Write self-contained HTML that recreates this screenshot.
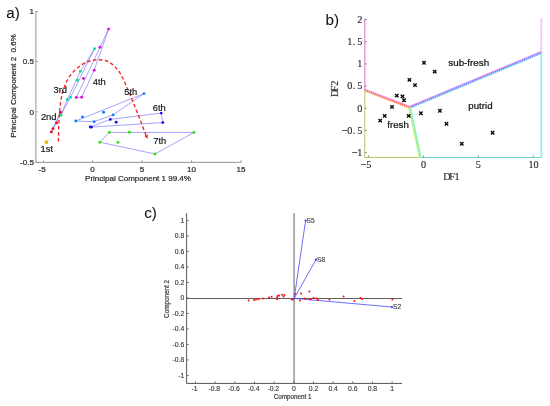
<!DOCTYPE html>
<html><head><meta charset="utf-8"><title>Figure</title>
<style>
html,body{margin:0;padding:0;background:#fff;}
body{width:550px;height:406px;overflow:hidden;font-family:"Liberation Sans",sans-serif;}
svg{display:block}
</style></head>
<body>
<svg width="550" height="406" viewBox="0 0 550 406">
<defs><filter id="soft" x="0" y="0" width="550" height="406" filterUnits="userSpaceOnUse"><feGaussianBlur stdDeviation="0.32"/></filter></defs>
<rect width="550" height="406" fill="#ffffff"/>
<g filter="url(#soft)">
<g id="pa">
<text x="6.2" y="17.8" font-size="15.2" text-anchor="start" fill="#111" stroke="#111" stroke-width="0.05" font-family="Liberation Sans, sans-serif" >a)</text>
<path d="M35.9 11 V162.35 H241.5" fill="none" stroke="#949494" stroke-width="1.0"/>
<path d="M35.9 11.6 h2.2" stroke="#949494" stroke-width="0.8"/>
<text x="34.0" y="14.35" font-size="8.1" text-anchor="end" fill="#2a2a2a" stroke="#2a2a2a" stroke-width="0.22" font-family="Liberation Sans, sans-serif" >1</text>
<path d="M35.9 61.5 h2.2" stroke="#949494" stroke-width="0.8"/>
<text x="34.0" y="64.25" font-size="8.1" text-anchor="end" fill="#2a2a2a" stroke="#2a2a2a" stroke-width="0.22" font-family="Liberation Sans, sans-serif" >0.5</text>
<path d="M35.9 111.8 h2.2" stroke="#949494" stroke-width="0.8"/>
<text x="34.0" y="114.55" font-size="8.1" text-anchor="end" fill="#2a2a2a" stroke="#2a2a2a" stroke-width="0.22" font-family="Liberation Sans, sans-serif" >0</text>
<path d="M35.9 162.3 h2.2" stroke="#949494" stroke-width="0.8"/>
<text x="34.0" y="165.05" font-size="8.1" text-anchor="end" fill="#2a2a2a" stroke="#2a2a2a" stroke-width="0.22" font-family="Liberation Sans, sans-serif" >-0.5</text>
<path d="M43.5 162.35 v-2.2" stroke="#949494" stroke-width="0.8"/>
<text x="42.2" y="171.6" font-size="8.1" text-anchor="middle" fill="#2a2a2a" stroke="#2a2a2a" stroke-width="0.22" font-family="Liberation Sans, sans-serif" >-5</text>
<path d="M92.5 162.35 v-2.2" stroke="#949494" stroke-width="0.8"/>
<text x="92.5" y="171.6" font-size="8.1" text-anchor="middle" fill="#2a2a2a" stroke="#2a2a2a" stroke-width="0.22" font-family="Liberation Sans, sans-serif" >0</text>
<path d="M142 162.35 v-2.2" stroke="#949494" stroke-width="0.8"/>
<text x="142" y="171.6" font-size="8.1" text-anchor="middle" fill="#2a2a2a" stroke="#2a2a2a" stroke-width="0.22" font-family="Liberation Sans, sans-serif" >5</text>
<path d="M191.5 162.35 v-2.2" stroke="#949494" stroke-width="0.8"/>
<text x="191.5" y="171.6" font-size="8.1" text-anchor="middle" fill="#2a2a2a" stroke="#2a2a2a" stroke-width="0.22" font-family="Liberation Sans, sans-serif" >10</text>
<path d="M241 162.35 v-2.2" stroke="#949494" stroke-width="0.8"/>
<text x="241" y="171.6" font-size="8.1" text-anchor="middle" fill="#2a2a2a" stroke="#2a2a2a" stroke-width="0.22" font-family="Liberation Sans, sans-serif" >15</text>
<text x="138" y="181" font-size="8" text-anchor="middle" fill="#2a2a2a" stroke="#2a2a2a" stroke-width="0.22" font-family="Liberation Sans, sans-serif" >Principal Component 1 99.4%</text>
<text transform="translate(16.4,86) rotate(-90)" font-size="8" text-anchor="middle" fill="#2a2a2a" stroke="#2a2a2a" stroke-width="0.22" font-family="Liberation Sans, sans-serif">Principal Component 2&#160; 0.6%</text>
<path d="M76.3 97.5 L108.6 29.1 L94.2 70.2 L81.7 97.3 Z" fill="none" stroke="#7474ff" stroke-width="0.65"/>
<path d="M60.9 115.1 L67.3 99.5 L80.4 71.4 L94.5 48.8 L70.5 97.2 Z" fill="none" stroke="#7474ff" stroke-width="0.65"/>
<path d="M51.4 131.9 L60.4 112.3 L56.5 122.9 Z" fill="none" stroke="#7474ff" stroke-width="0.65"/>
<path d="M75.8 121 L144 93.6 L113.1 114.9 L94.1 121.7 Z" fill="none" stroke="#7474ff" stroke-width="0.65"/>
<path d="M90.2 127 L110.3 119.4 L161.2 113.1 L162.8 122.6 L91.6 127.1 Z" fill="none" stroke="#7474ff" stroke-width="0.65"/>
<path d="M99.8 142.2 L109.3 132.4 L193.9 132.5 L155 154 Z" fill="none" stroke="#7474ff" stroke-width="0.65"/>
<circle cx="108.6" cy="29.1" r="1.45" fill="#e010e0"/>
<circle cx="100" cy="47.3" r="1.45" fill="#e010e0"/>
<circle cx="94.2" cy="70.2" r="1.45" fill="#e010e0"/>
<circle cx="83.5" cy="78.5" r="1.45" fill="#e010e0"/>
<circle cx="76.3" cy="97.5" r="1.45" fill="#e010e0"/>
<circle cx="81.7" cy="97.3" r="1.45" fill="#e010e0"/>
<circle cx="94.5" cy="48.8" r="1.45" fill="#10d8a0"/>
<circle cx="80.4" cy="71.4" r="1.45" fill="#10d8a0"/>
<circle cx="77.4" cy="80.3" r="1.45" fill="#10d8a0"/>
<circle cx="67.3" cy="99.5" r="1.45" fill="#10d8a0"/>
<circle cx="70.5" cy="97.2" r="1.45" fill="#10d8a0"/>
<circle cx="61.1" cy="115.3" r="1.45" fill="#20e060"/>
<circle cx="60.4" cy="112.3" r="1.45" fill="#e01020"/>
<circle cx="56.5" cy="122.9" r="1.45" fill="#e01020"/>
<circle cx="53.0" cy="128.6" r="1.45" fill="#e01020"/>
<circle cx="51.4" cy="131.9" r="1.45" fill="#e01020"/>
<circle cx="75.8" cy="121" r="1.45" fill="#1080ff"/>
<circle cx="82.5" cy="116.9" r="1.45" fill="#1080ff"/>
<circle cx="94.1" cy="121.7" r="1.45" fill="#1080ff"/>
<circle cx="103.6" cy="112.2" r="1.45" fill="#1080ff"/>
<circle cx="113.1" cy="114.9" r="1.45" fill="#1080ff"/>
<circle cx="144" cy="93.6" r="1.45" fill="#1080ff"/>
<circle cx="110.3" cy="119.4" r="1.45" fill="#2010e8"/>
<circle cx="116.2" cy="122.2" r="1.45" fill="#2010e8"/>
<circle cx="161.2" cy="113.1" r="1.45" fill="#2010e8"/>
<circle cx="162.8" cy="122.6" r="1.45" fill="#2010e8"/>
<circle cx="91.6" cy="127.1" r="1.45" fill="#2010e8"/>
<circle cx="90.2" cy="127" r="1.45" fill="#2010e8"/>
<circle cx="109.3" cy="132.4" r="1.45" fill="#30e010"/>
<circle cx="129.3" cy="132.2" r="1.45" fill="#30e010"/>
<circle cx="99.8" cy="142.2" r="1.45" fill="#30e010"/>
<circle cx="118" cy="142.4" r="1.45" fill="#30e010"/>
<circle cx="193.9" cy="132.5" r="1.45" fill="#30e010"/>
<circle cx="155" cy="154" r="1.45" fill="#30e010"/>
<circle cx="46.5" cy="142.1" r="1.9" fill="#f0b000"/>
<path d="M58.5 141.6 C58.55 138.67 58.58 129.35 58.8 124 C59.02 118.65 59.42 113.62 59.8 109.5 C60.18 105.38 60.47 102.72 61.1 99.3 C61.73 95.88 62.40 92.50 63.6 89.0 C64.80 85.50 66.47 81.37 68.3 78.3 C70.13 75.23 72.32 72.88 74.6 70.6 C76.88 68.32 79.50 66.20 82 64.6 C84.50 63.00 86.93 61.82 89.6 61.0 C92.27 60.18 95.15 59.70 98 59.7 C100.85 59.70 104.03 59.98 106.7 61.0 C109.37 62.02 111.75 63.73 114 65.8 C116.25 67.87 118.35 70.48 120.2 73.4 C122.05 76.32 123.47 79.77 125.1 83.3 C126.73 86.83 128.35 90.67 130 94.6 C131.65 98.53 133.35 102.80 135 106.9 C136.65 111.00 138.32 115.13 139.9 119.2 C141.48 123.27 143.42 128.47 144.5 131.3 C145.58 134.13 146.08 135.38 146.4 136.2" fill="none" stroke="#f02828" stroke-width="1.35" stroke-dasharray="3.6 2.4"/>
<path d="M144.5 136.0 L147.6 139.0 L147.8 134.6 Z" fill="#f02828"/>
<text x="40.599999999999994" y="152.3" font-size="9.4" text-anchor="start" fill="#111" stroke="#111" stroke-width="0.15" font-family="Liberation Sans, sans-serif" >1st</text>
<text x="40.9" y="119.5" font-size="9.4" text-anchor="start" fill="#111" stroke="#111" stroke-width="0.15" font-family="Liberation Sans, sans-serif" >2nd</text>
<text x="53.5" y="93.0" font-size="9.4" text-anchor="start" fill="#111" stroke="#111" stroke-width="0.15" font-family="Liberation Sans, sans-serif" >3rd</text>
<text x="92.8" y="84.8" font-size="9.4" text-anchor="start" fill="#111" stroke="#111" stroke-width="0.15" font-family="Liberation Sans, sans-serif" >4th</text>
<text x="124.2" y="95.3" font-size="9.4" text-anchor="start" fill="#111" stroke="#111" stroke-width="0.15" font-family="Liberation Sans, sans-serif" >5th</text>
<text x="152.8" y="110.6" font-size="9.4" text-anchor="start" fill="#111" stroke="#111" stroke-width="0.15" font-family="Liberation Sans, sans-serif" >6th</text>
<text x="153.3" y="144.10000000000002" font-size="9.4" text-anchor="start" fill="#111" stroke="#111" stroke-width="0.15" font-family="Liberation Sans, sans-serif" >7th</text>
</g>
<g id="pb">
<text x="325.6" y="25.4" font-size="15.2" text-anchor="start" fill="#111" stroke="#111" stroke-width="0.05" font-family="Liberation Sans, sans-serif" >b)</text>
<path d="M364.8 18.4 V90.2" stroke="#dc8cdc" stroke-width="1.25" fill="none"/>
<path d="M364.8 90.2 V157.45 H420.2" stroke="#bebe5e" stroke-width="0.95" fill="none"/>
<path d="M420.2 157.45 H541.3" stroke="#6cd6d6" stroke-width="1.1" fill="none"/>
<path d="M541.3 157.95 V52.5" stroke="#9af0f0" stroke-width="1.8" fill="none"/>
<path d="M541.3 52.5 V18.4" stroke="#f7aef7" stroke-width="1.8" fill="none" stroke-dasharray="1.3 0.5"/>
<path d="M365.10 89.41 L409.90 106.61" stroke="#f59af5" stroke-width="1.3" fill="none"/>
<path d="M364.50 90.99 L409.30 108.19" stroke="#f3f37a" stroke-width="1.3" fill="none"/>
<path d="M364.8 90.2 L409.6 107.4" stroke="#ff6e6e" stroke-width="2.0" stroke-dasharray="1.4 0.7" fill="none"/>
<path d="M409.27 106.62 L540.97 51.72" stroke="#f59af5" stroke-width="1.3" fill="none"/>
<path d="M409.93 108.18 L541.63 53.28" stroke="#8af0f0" stroke-width="1.3" fill="none"/>
<path d="M409.6 107.4 L541.3 52.5" stroke="#8080ff" stroke-width="2.0" stroke-dasharray="1.4 0.7" fill="none"/>
<path d="M410.43 107.22 L421.03 157.27" stroke="#8af0f0" stroke-width="1.3" fill="none"/>
<path d="M408.77 107.58 L419.37 157.63" stroke="#f3f37a" stroke-width="1.3" fill="none"/>
<path d="M409.6 107.4 L420.2 157.45" stroke="#88f096" stroke-width="2.0" stroke-dasharray="1.4 0.7" fill="none"/>
<path d="M364.8 19.60000000000001 h2" stroke="#666" stroke-width="0.7"/>
<text x="359.90" y="23.000000000000007" font-size="10.2" text-anchor="middle" fill="#2a2a2a" stroke="#2a2a2a" stroke-width="0.15" font-family="Liberation Serif, serif">2</text>
<path d="M364.8 41.750000000000014 h2" stroke="#666" stroke-width="0.7"/>
<text x="349.90 353.90 359.90" y="45.15000000000001" font-size="10.2" text-anchor="middle" fill="#2a2a2a" stroke="#2a2a2a" stroke-width="0.15" font-family="Liberation Serif, serif">1.5</text>
<path d="M364.8 63.900000000000006 h2" stroke="#666" stroke-width="0.7"/>
<text x="359.90" y="67.30000000000001" font-size="10.2" text-anchor="middle" fill="#2a2a2a" stroke="#2a2a2a" stroke-width="0.15" font-family="Liberation Serif, serif">1</text>
<path d="M364.8 86.05000000000001 h2" stroke="#666" stroke-width="0.7"/>
<text x="349.90 353.90 359.90" y="89.45000000000002" font-size="10.2" text-anchor="middle" fill="#2a2a2a" stroke="#2a2a2a" stroke-width="0.15" font-family="Liberation Serif, serif">0.5</text>
<path d="M364.8 108.2 h2" stroke="#666" stroke-width="0.7"/>
<text x="359.90" y="111.60000000000001" font-size="10.2" text-anchor="middle" fill="#2a2a2a" stroke="#2a2a2a" stroke-width="0.15" font-family="Liberation Serif, serif">0</text>
<path d="M364.8 130.35 h2" stroke="#666" stroke-width="0.7"/>
<text x="344.90 349.90 353.90 359.90" y="133.75" font-size="10.2" text-anchor="middle" fill="#2a2a2a" stroke="#2a2a2a" stroke-width="0.15" font-family="Liberation Serif, serif">−0.5</text>
<path d="M364.8 152.5 h2" stroke="#666" stroke-width="0.7"/>
<text x="354.90 359.90" y="155.9" font-size="10.2" text-anchor="middle" fill="#2a2a2a" stroke="#2a2a2a" stroke-width="0.15" font-family="Liberation Serif, serif">−1</text>
<path d="M368.6 157.45 v-2" stroke="#666" stroke-width="0.7"/>
<text x="363.70 368.70" y="168.3" font-size="10.2" text-anchor="middle" fill="#2a2a2a" stroke="#2a2a2a" stroke-width="0.15" font-family="Liberation Serif, serif">−5</text>
<path d="M423.5 157.45 v-2" stroke="#666" stroke-width="0.7"/>
<text x="423.50" y="168.3" font-size="10.2" text-anchor="middle" fill="#2a2a2a" stroke="#2a2a2a" stroke-width="0.15" font-family="Liberation Serif, serif">0</text>
<path d="M478.4 157.45 v-2" stroke="#666" stroke-width="0.7"/>
<text x="478.20" y="168.3" font-size="10.2" text-anchor="middle" fill="#2a2a2a" stroke="#2a2a2a" stroke-width="0.15" font-family="Liberation Serif, serif">5</text>
<path d="M533.3 157.45 v-2" stroke="#666" stroke-width="0.7"/>
<text x="531.00 536.00" y="168.3" font-size="10.2" text-anchor="middle" fill="#2a2a2a" stroke="#2a2a2a" stroke-width="0.15" font-family="Liberation Serif, serif">10</text>
<text x="447.00 452.00 457.00" y="180.0" font-size="10.2" text-anchor="middle" fill="#2a2a2a" stroke="#2a2a2a" stroke-width="0.15" font-family="Liberation Serif, serif">DF1</text>
<g transform="translate(338.2,88.3) rotate(-90)">
<text x="-5.00 0.00 5.00" y="0.2" font-size="10.2" text-anchor="middle" fill="#2a2a2a" stroke="#2a2a2a" stroke-width="0.15" font-family="Liberation Serif, serif">DF2</text>
</g>
<path d="M422.3 61.0 l3.4 3.4 M422.3 64.4 l3.4 -3.4" stroke="#111" stroke-width="1.45"/>
<path d="M407.7 78.2 l3.4 3.4 M407.7 81.60000000000001 l3.4 -3.4" stroke="#111" stroke-width="1.45"/>
<path d="M413.3 83.39999999999999 l3.4 3.4 M413.3 86.8 l3.4 -3.4" stroke="#111" stroke-width="1.45"/>
<path d="M395.1 93.89999999999999 l3.4 3.4 M395.1 97.3 l3.4 -3.4" stroke="#111" stroke-width="1.45"/>
<path d="M400.8 94.7 l3.4 3.4 M400.8 98.10000000000001 l3.4 -3.4" stroke="#111" stroke-width="1.45"/>
<path d="M402.3 98.6 l3.4 3.4 M402.3 102.0 l3.4 -3.4" stroke="#111" stroke-width="1.45"/>
<path d="M390.3 105.2 l3.4 3.4 M390.3 108.60000000000001 l3.4 -3.4" stroke="#111" stroke-width="1.45"/>
<path d="M383.0 114.2 l3.4 3.4 M383.0 117.60000000000001 l3.4 -3.4" stroke="#111" stroke-width="1.45"/>
<path d="M407.0 114.2 l3.4 3.4 M407.0 117.60000000000001 l3.4 -3.4" stroke="#111" stroke-width="1.45"/>
<path d="M419.2 111.6 l3.4 3.4 M419.2 115.0 l3.4 -3.4" stroke="#111" stroke-width="1.45"/>
<path d="M378.5 118.89999999999999 l3.4 3.4 M378.5 122.3 l3.4 -3.4" stroke="#111" stroke-width="1.45"/>
<path d="M433.0 69.89999999999999 l3.4 3.4 M433.0 73.3 l3.4 -3.4" stroke="#111" stroke-width="1.45"/>
<path d="M438.2 109.0 l3.4 3.4 M438.2 112.4 l3.4 -3.4" stroke="#111" stroke-width="1.45"/>
<path d="M444.8 122.0 l3.4 3.4 M444.8 125.4 l3.4 -3.4" stroke="#111" stroke-width="1.45"/>
<path d="M460.1 142.10000000000002 l3.4 3.4 M460.1 145.5 l3.4 -3.4" stroke="#111" stroke-width="1.45"/>
<path d="M490.90000000000003 131.0 l3.4 3.4 M490.90000000000003 134.39999999999998 l3.4 -3.4" stroke="#111" stroke-width="1.45"/>
<text x="387.3" y="127.6" font-size="9.7" text-anchor="start" fill="#111" stroke="#111" stroke-width="0.22" font-family="Liberation Sans, sans-serif" >fresh</text>
<text x="448.3" y="66.3" font-size="9.8" text-anchor="start" fill="#111" stroke="#111" stroke-width="0.22" font-family="Liberation Sans, sans-serif" >sub-fresh</text>
<text x="468.3" y="108.5" font-size="9.7" text-anchor="start" fill="#111" stroke="#111" stroke-width="0.22" font-family="Liberation Sans, sans-serif" >putrid</text>
</g>
<g id="pc">
<text x="144.2" y="218" font-size="15.2" text-anchor="start" fill="#111" stroke="#111" stroke-width="0.05" font-family="Liberation Sans, sans-serif" >c)</text>
<path d="M186.6 213.2 V383.45 H402" fill="none" stroke="#5a5a5a" stroke-width="1"/>
<path d="M186.6 298.5 H402" fill="none" stroke="#606060" stroke-width="1"/>
<path d="M294.05 213.2 V383.45" fill="none" stroke="#5e5e5e" stroke-width="1.0"/>
<path d="M186.6 375.45 h2.2" stroke="#5a5a5a" stroke-width="0.8"/>
<text x="184.2" y="377.9" font-size="6.8" text-anchor="end" fill="#3a3a3a" stroke="#3a3a3a" stroke-width="0.15" font-family="Liberation Sans, sans-serif" >-1</text>
<path d="M195.5 383.45 v-2.2" stroke="#5a5a5a" stroke-width="0.8"/>
<text x="194.6" y="391.3" font-size="6.8" text-anchor="middle" fill="#3a3a3a" stroke="#3a3a3a" stroke-width="0.15" font-family="Liberation Sans, sans-serif" >-1</text>
<path d="M186.6 359.95 h2.2" stroke="#5a5a5a" stroke-width="0.8"/>
<text x="184.2" y="362.4" font-size="6.8" text-anchor="end" fill="#3a3a3a" stroke="#3a3a3a" stroke-width="0.15" font-family="Liberation Sans, sans-serif" >-0.8</text>
<path d="M215.16000000000003 383.45 v-2.2" stroke="#5a5a5a" stroke-width="0.8"/>
<text x="214.26000000000002" y="391.3" font-size="6.8" text-anchor="middle" fill="#3a3a3a" stroke="#3a3a3a" stroke-width="0.15" font-family="Liberation Sans, sans-serif" >-0.8</text>
<path d="M186.6 344.45 h2.2" stroke="#5a5a5a" stroke-width="0.8"/>
<text x="184.2" y="346.9" font-size="6.8" text-anchor="end" fill="#3a3a3a" stroke="#3a3a3a" stroke-width="0.15" font-family="Liberation Sans, sans-serif" >-0.6</text>
<path d="M234.82000000000002 383.45 v-2.2" stroke="#5a5a5a" stroke-width="0.8"/>
<text x="233.92000000000002" y="391.3" font-size="6.8" text-anchor="middle" fill="#3a3a3a" stroke="#3a3a3a" stroke-width="0.15" font-family="Liberation Sans, sans-serif" >-0.6</text>
<path d="M186.6 328.95 h2.2" stroke="#5a5a5a" stroke-width="0.8"/>
<text x="184.2" y="331.4" font-size="6.8" text-anchor="end" fill="#3a3a3a" stroke="#3a3a3a" stroke-width="0.15" font-family="Liberation Sans, sans-serif" >-0.4</text>
<path d="M254.48000000000002 383.45 v-2.2" stroke="#5a5a5a" stroke-width="0.8"/>
<text x="253.58" y="391.3" font-size="6.8" text-anchor="middle" fill="#3a3a3a" stroke="#3a3a3a" stroke-width="0.15" font-family="Liberation Sans, sans-serif" >-0.4</text>
<path d="M186.6 313.45 h2.2" stroke="#5a5a5a" stroke-width="0.8"/>
<text x="184.2" y="315.9" font-size="6.8" text-anchor="end" fill="#3a3a3a" stroke="#3a3a3a" stroke-width="0.15" font-family="Liberation Sans, sans-serif" >-0.2</text>
<path d="M274.14 383.45 v-2.2" stroke="#5a5a5a" stroke-width="0.8"/>
<text x="273.24" y="391.3" font-size="6.8" text-anchor="middle" fill="#3a3a3a" stroke="#3a3a3a" stroke-width="0.15" font-family="Liberation Sans, sans-serif" >-0.2</text>
<path d="M186.6 297.95 h2.2" stroke="#5a5a5a" stroke-width="0.8"/>
<text x="184.2" y="300.4" font-size="6.8" text-anchor="end" fill="#3a3a3a" stroke="#3a3a3a" stroke-width="0.15" font-family="Liberation Sans, sans-serif" >0</text>
<path d="M293.8 383.45 v-2.2" stroke="#5a5a5a" stroke-width="0.8"/>
<text x="293.8" y="391.3" font-size="6.8" text-anchor="middle" fill="#3a3a3a" stroke="#3a3a3a" stroke-width="0.15" font-family="Liberation Sans, sans-serif" >0</text>
<path d="M186.6 282.45 h2.2" stroke="#5a5a5a" stroke-width="0.8"/>
<text x="184.2" y="284.9" font-size="6.8" text-anchor="end" fill="#3a3a3a" stroke="#3a3a3a" stroke-width="0.15" font-family="Liberation Sans, sans-serif" >0.2</text>
<path d="M313.46000000000004 383.45 v-2.2" stroke="#5a5a5a" stroke-width="0.8"/>
<text x="313.46000000000004" y="391.3" font-size="6.8" text-anchor="middle" fill="#3a3a3a" stroke="#3a3a3a" stroke-width="0.15" font-family="Liberation Sans, sans-serif" >0.2</text>
<path d="M186.6 266.95 h2.2" stroke="#5a5a5a" stroke-width="0.8"/>
<text x="184.2" y="269.4" font-size="6.8" text-anchor="end" fill="#3a3a3a" stroke="#3a3a3a" stroke-width="0.15" font-family="Liberation Sans, sans-serif" >0.4</text>
<path d="M333.12 383.45 v-2.2" stroke="#5a5a5a" stroke-width="0.8"/>
<text x="333.12" y="391.3" font-size="6.8" text-anchor="middle" fill="#3a3a3a" stroke="#3a3a3a" stroke-width="0.15" font-family="Liberation Sans, sans-serif" >0.4</text>
<path d="M186.6 251.45 h2.2" stroke="#5a5a5a" stroke-width="0.8"/>
<text x="184.2" y="253.89999999999998" font-size="6.8" text-anchor="end" fill="#3a3a3a" stroke="#3a3a3a" stroke-width="0.15" font-family="Liberation Sans, sans-serif" >0.6</text>
<path d="M352.78000000000003 383.45 v-2.2" stroke="#5a5a5a" stroke-width="0.8"/>
<text x="352.78000000000003" y="391.3" font-size="6.8" text-anchor="middle" fill="#3a3a3a" stroke="#3a3a3a" stroke-width="0.15" font-family="Liberation Sans, sans-serif" >0.6</text>
<path d="M186.6 235.95 h2.2" stroke="#5a5a5a" stroke-width="0.8"/>
<text x="184.2" y="238.39999999999998" font-size="6.8" text-anchor="end" fill="#3a3a3a" stroke="#3a3a3a" stroke-width="0.15" font-family="Liberation Sans, sans-serif" >0.8</text>
<path d="M372.44 383.45 v-2.2" stroke="#5a5a5a" stroke-width="0.8"/>
<text x="372.44" y="391.3" font-size="6.8" text-anchor="middle" fill="#3a3a3a" stroke="#3a3a3a" stroke-width="0.15" font-family="Liberation Sans, sans-serif" >0.8</text>
<path d="M186.6 220.45 h2.2" stroke="#5a5a5a" stroke-width="0.8"/>
<text x="184.2" y="222.89999999999998" font-size="6.8" text-anchor="end" fill="#3a3a3a" stroke="#3a3a3a" stroke-width="0.15" font-family="Liberation Sans, sans-serif" >1</text>
<path d="M392.1 383.45 v-2.2" stroke="#5a5a5a" stroke-width="0.8"/>
<text x="392.1" y="391.3" font-size="6.8" text-anchor="middle" fill="#3a3a3a" stroke="#3a3a3a" stroke-width="0.15" font-family="Liberation Sans, sans-serif" >1</text>
<text x="292.7" y="399.4" font-size="6.3" text-anchor="middle" fill="#3a3a3a" stroke="#3a3a3a" stroke-width="0.2" font-family="Liberation Sans, sans-serif" >Component 1</text>
<text transform="translate(169.2,299) rotate(-90)" font-size="6.3" text-anchor="middle" fill="#3a3a3a" stroke="#3a3a3a" stroke-width="0.2" font-family="Liberation Sans, sans-serif">Component 2</text>
<path d="M294.2 298.4 L305.6 220.6" stroke="#4848ff" stroke-width="0.8"/>
<circle cx="305.6" cy="220.6" r="1" fill="#2020ff"/>
<text x="306.6" y="222.5" font-size="6.6" text-anchor="start" fill="#3a3a3a" stroke="#3a3a3a" stroke-width="0.12" font-family="Liberation Sans, sans-serif" >S5</text>
<path d="M294.2 298.4 L316 259.6" stroke="#4848ff" stroke-width="0.8"/>
<circle cx="316" cy="259.6" r="1" fill="#2020ff"/>
<text x="317" y="261.5" font-size="6.6" text-anchor="start" fill="#3a3a3a" stroke="#3a3a3a" stroke-width="0.12" font-family="Liberation Sans, sans-serif" >S8</text>
<path d="M294.2 298.4 L392 307" stroke="#4848ff" stroke-width="0.8"/>
<circle cx="392" cy="307" r="1" fill="#2020ff"/>
<text x="393" y="308.9" font-size="6.6" text-anchor="start" fill="#3a3a3a" stroke="#3a3a3a" stroke-width="0.12" font-family="Liberation Sans, sans-serif" >S2</text>
<circle cx="248.6" cy="300.4" r="1.0" fill="#ff1010"/>
<circle cx="254" cy="300" r="1.0" fill="#ff1010"/>
<circle cx="256" cy="299.6" r="1.0" fill="#ff1010"/>
<circle cx="258.4" cy="299.2" r="1.0" fill="#ff1010"/>
<circle cx="263" cy="298.4" r="1.0" fill="#ff1010"/>
<circle cx="269" cy="297.4" r="1.0" fill="#ff1010"/>
<circle cx="271.6" cy="296.8" r="1.0" fill="#ff1010"/>
<circle cx="277" cy="297.4" r="1.0" fill="#ff1010"/>
<circle cx="277.6" cy="296" r="1.0" fill="#ff1010"/>
<circle cx="279" cy="295.6" r="1.0" fill="#ff1010"/>
<circle cx="282" cy="294.8" r="1.0" fill="#ff1010"/>
<circle cx="283.6" cy="296.4" r="1.0" fill="#ff1010"/>
<circle cx="284.4" cy="295" r="1.0" fill="#ff1010"/>
<circle cx="277.2" cy="299.2" r="1.0" fill="#ff1010"/>
<circle cx="291.6" cy="299.4" r="1.0" fill="#ff1010"/>
<circle cx="293.2" cy="299.4" r="1.0" fill="#ff1010"/>
<circle cx="295.4" cy="294" r="1.0" fill="#ff1010"/>
<circle cx="301" cy="293.4" r="1.0" fill="#ff1010"/>
<circle cx="309.4" cy="291.6" r="1.0" fill="#ff1010"/>
<circle cx="300" cy="300.4" r="1.0" fill="#ff1010"/>
<circle cx="304.6" cy="298.4" r="1.0" fill="#ff1010"/>
<circle cx="310" cy="299.6" r="1.0" fill="#ff1010"/>
<circle cx="311" cy="299" r="1.0" fill="#ff1010"/>
<circle cx="313.6" cy="298" r="1.0" fill="#ff1010"/>
<circle cx="316.6" cy="298.6" r="1.0" fill="#ff1010"/>
<circle cx="318" cy="300" r="1.0" fill="#ff1010"/>
<circle cx="329.4" cy="299.6" r="1.0" fill="#ff1010"/>
<circle cx="343.6" cy="296.6" r="1.0" fill="#ff1010"/>
<circle cx="354.4" cy="301" r="1.0" fill="#ff1010"/>
<circle cx="360.4" cy="298" r="1.0" fill="#ff1010"/>
<circle cx="362" cy="299" r="1.0" fill="#ff1010"/>
<circle cx="392.4" cy="299.6" r="1.0" fill="#ff1010"/>
</g>
</g>
</svg>
</body></html>
